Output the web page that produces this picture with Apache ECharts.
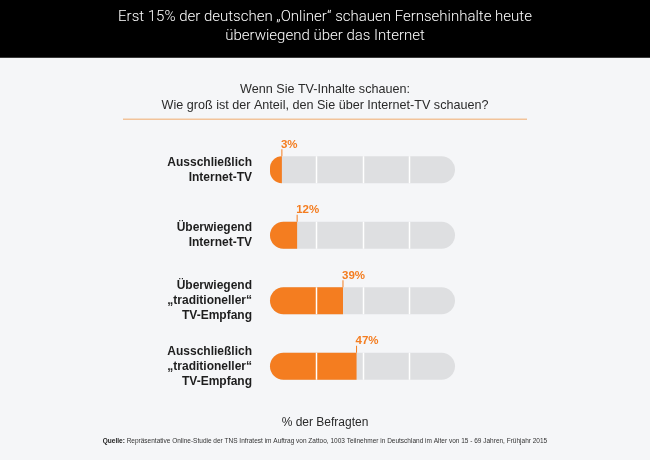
<!DOCTYPE html>
<html>
<head>
<meta charset="utf-8">
<script src="https://cdn.jsdelivr.net/npm/echarts@6/dist/echarts.min.js"></script>
<style>
  html, body { margin: 0; padding: 0; background: #f5f6f8; }
  #chart { width: 650px; height: 460px; }
</style>
</head>
<body>
<div id="chart"></div>
<script>
// Antwortkategorien (von oben nach unten)
const categories = [
  'Ausschließlich\nInternet-TV',
  'Überwiegend\nInternet-TV',
  'Überwiegend\n„traditioneller“\nTV-Empfang',
  'Ausschließlich\n„traditioneller“\nTV-Empfang'
]
// Anteil in % der Befragten
const shares = [3, 12, 39, 47]

const ORANGE = '#f47d20'
const TRACK = '#dedfe1'
const FONT = 'Liberation Sans, Arial, sans-serif'
// Achsenbereich inkl. runder Kappe links und rechts
const axisMin = -4
const axisMax = 105

const chart = echarts.init(document.getElementById('chart'))

// zentrierter Text als graphic-Element
function centerText (text, y, style) {
  return {
    type: 'text',
    x: 325,
    y: y,
    style: Object.assign({ text: text, align: 'center', verticalAlign: 'top', fontFamily: FONT }, style)
  }
}

const option = {
  backgroundColor: '#f5f6f8',
  animation: false,
  textStyle: { fontFamily: FONT },
  graphic: [
    { type: 'rect', x: 0, y: 0, shape: { width: 650, height: 57 }, style: { fill: '#000' }, z: -1 },
    { type: 'rect', x: 0, y: 57, shape: { width: 650, height: 1 }, style: { fill: '#3a3a3a' }, z: -1 },
    centerText('Erst 15% der deutschen „Onliner“ schauen Fernsehinhalte heute\nüberwiegend über das Internet', 8,
      { fill: '#fff', fontSize: 15, fontWeight: 300, lineHeight: 19, fontFamily: 'Roboto, Liberation Sans, sans-serif' }),
    centerText('Wenn Sie TV-Inhalte schauen:\nWie groß ist der Anteil, den Sie über Internet-TV schauen?', 82,
      { fill: '#2a2a2a', fontSize: 12.6, lineHeight: 16 }),
    // orange Trennlinie unter der Frage
    { type: 'rect', x: 123, y: 118.5, shape: { width: 404, height: 1.5 }, style: { fill: '#f2c39a' } },
    centerText('% der Befragten', 417, { fill: '#2a2a2a', fontSize: 12 }),
    centerText('{b|Quelle:} Repräsentative Online-Studie der TNS Infratest im Auftrag von Zattoo, 1003 Teilnehmer in Deutschland im Alter von 15 - 69 Jahren, Frühjahr 2015', 438,
      { fill: '#333', fontSize: 6.5, rich: { b: { fontWeight: 'bold', fontSize: 6.5, fill: '#222', fontFamily: FONT } } })
  ],
  grid: { left: 270, right: 195, top: 137, height: 262 },
  xAxis: {
    type: 'value',
    min: axisMin,
    max: axisMax,
    show: false
  },
  yAxis: {
    type: 'category',
    data: categories,
    inverse: true,
    axisLine: { show: false },
    axisTick: { show: false },
    axisLabel: {
      margin: 18,
      color: '#1e1e1e',
      fontSize: 12,
      fontWeight: 'bold',
      lineHeight: 15,
      align: 'right'
    }
  },
  series: [
    {
      type: 'custom',
      data: shares.map((v, i) => [i, v]),
      encode: { x: 1, y: 0 },
      renderItem: function (params, api) {
        const cat = api.value(0)
        const v = api.value(1)
        const left = api.coord([axisMin, cat])
        const right = api.coord([axisMax, cat])
        const end = api.coord([v, cat])
        const h = 27
        const r = h / 2
        const y = left[1] - h / 2
        const w = right[0] - left[0]
        const children = [
          { type: 'rect', shape: { x: left[0], y: y, width: w, height: h, r: r }, style: { fill: TRACK } },
          { type: 'rect', shape: { x: left[0], y: y, width: end[0] - left[0], height: h, r: [r, 0, 0, r] }, style: { fill: ORANGE } }
        ]
        // weiße Segmenttrenner
        for (let k = 1; k < 4; k++) {
          const x = Math.round(left[0] + w * k / 4) + 0.5
          children.push({ type: 'line', shape: { x1: x, y1: y, x2: x, y2: y + h }, style: { stroke: '#fff', lineWidth: 1.5 } })
        }
        children.push({ type: 'line', shape: { x1: end[0], y1: y - 7, x2: end[0], y2: y }, style: { stroke: ORANGE, lineWidth: 1 } })
        children.push({
          type: 'text',
          x: end[0] - 1,
          y: y - 11.5,
          style: { text: v + '%', fill: ORANGE, fontSize: 11.5, fontWeight: 'bold', align: 'left', verticalAlign: 'middle', fontFamily: FONT }
        })
        return { type: 'group', children: children }
      }
    }
  ]
}

chart.setOption(option)
</script>
</body>
</html>
